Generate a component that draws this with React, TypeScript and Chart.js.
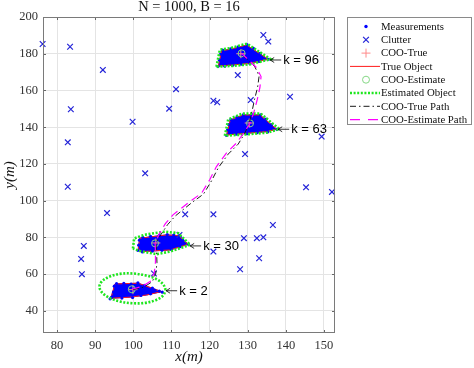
import React, { useEffect, useRef } from 'react';
import { Chart, registerables } from 'chart.js';

Chart.register(...registerables);

type P = [number, number];

const TITLE = 'N = 1000, B = 16';
const X_LABEL = 'x(m)';
const Y_LABEL = 'y(m)';
const X_TICKS = [80, 90, 100, 110, 120, 130, 140, 150];
const Y_TICKS = [40, 60, 80, 100, 120, 140, 160, 180, 200];
const X_LIMITS: P = [76.3, 152.9];
const Y_LIMITS: P = [28, 200];

// Measurements (dense clusters around the object at k = 2, 30, 63, 96)
const measurementsK2: P[] = [
  [94.3, 47.5], [94.8, 50.2], [95.0, 53.5], [95.6, 54.9], [97.5, 55.0], [99.4, 54.6], [101.2, 55.3],
  [103.0, 54.0], [105.0, 52.5], [106.8, 50.8], [107.6, 50.2], [104.5, 49.3], [102.0, 48.4], [99.8, 47.3],
  [97.0, 47.0], [96.0, 49.5], [98.2, 51.0], [100.5, 52.0], [102.6, 51.2], [97.3, 53.0], [93.9, 46.6], [105.6, 51.4],
];
const measurementsK30: P[] = [
  [101.2, 73.0], [101.4, 75.8], [101.6, 78.5], [102.5, 80.0], [104.5, 80.6], [106.8, 81.2], [108.9, 81.6],
  [110.6, 81.3], [112.0, 80.6], [113.0, 78.4], [114.5, 76.2], [112.2, 75.0], [110.0, 73.4], [107.5, 73.0],
  [105.0, 72.6], [102.4, 72.1], [104.0, 76.0], [107.0, 77.5], [110.0, 77.9], [103.5, 78.0],
];
const measurementsK63: P[] = [
  [124.4, 135.6], [124.7, 138.5], [125.0, 141.5], [125.6, 144.2], [127.2, 145.6], [128.9, 146.9], [131.0, 147.0],
  [133.4, 146.8], [134.8, 144.4], [136.3, 141.5], [137.7, 138.8], [135.2, 137.4], [132.5, 137.1], [129.8, 136.5],
  [127.0, 136.2], [128.0, 140.5], [131.0, 142.5], [133.5, 140.2],
];
const measurementsK96: P[] = [
  [122.2, 173.0], [122.6, 176.5], [122.9, 179.8], [123.4, 182.0], [125.5, 182.6], [127.5, 183.8], [129.8, 185.0],
  [131.5, 183.0], [133.3, 180.2], [135.5, 177.0], [133.0, 175.8], [130.6, 174.6], [128.3, 174.3], [126.0, 173.6],
  [124.0, 173.2], [125.5, 178.5], [128.5, 180.0], [131.0, 178.0],
];

const clutter: P[] = [
  [76.2, 185.3], [83.4, 183.8], [83.6, 149.8], [82.8, 131.8], [82.8, 107.6], [87.0, 75.4], [86.3, 68.3],
  [86.5, 60.0], [92.0, 171.2], [111.2, 160.7], [109.4, 150.1], [99.8, 143.0], [121.0, 154.4], [122.0, 153.6],
  [130.8, 154.8], [127.4, 168.4], [135.4, 186.6], [134.1, 190.2], [129.3, 125.4], [141.1, 156.6], [149.4, 134.9],
  [152.1, 104.8], [145.3, 107.3], [103.1, 114.9], [113.6, 92.6], [121.0, 92.6], [93.1, 93.3], [136.6, 86.8],
  [129.0, 79.6], [132.4, 79.6], [134.1, 80.1], [133.0, 68.7], [128.0, 62.7], [121.0, 72.3], [112.1, 81.4],
  [105.4, 60.4],
];

const cooTrue: P[] = [[99.9, 51.6], [105.9, 77.0], [130.4, 142.3], [128.2, 180.0]];
const cooEstimate: P[] = [[99.6, 51.8], [105.7, 76.8], [130.6, 142.1], [128.4, 180.2]];

const trueObjectK2: P[] = [[94.1, 46.9], [95.2, 54.7], [101.3, 55.1], [107.4, 50.5], [103.5, 48.7], [99.1, 47.5], [94.1, 46.9]];
const trueObjectK30: P[] = [[101.3, 74.1], [101.7, 79.6], [108.7, 81.4], [111.8, 81.0], [114.4, 76.3], [109.6, 73.2], [102.2, 72.3], [101.3, 74.1]];
const trueObjectK63: P[] = [[124.5, 135.8], [125.4, 143.9], [128.8, 146.7], [133.2, 146.7], [137.6, 138.9], [135.0, 137.6], [129.7, 136.7], [124.5, 135.8]];
const trueObjectK96: P[] = [[122.3, 173.3], [123.2, 181.7], [125.4, 182.4], [129.7, 184.8], [135.4, 177.0], [130.6, 174.8], [126.2, 173.9], [122.3, 173.3]];

const estObjectK2: P[] = [
  [108.5, 51.4], [107.8, 54.6], [106.0, 57.4], [103.1, 59.4], [99.8, 60.4], [96.5, 60.2], [93.7, 58.6], [91.8, 56.2],
  [91.1, 53.2], [91.8, 50.0], [93.7, 47.2], [96.5, 45.1], [99.8, 44.2], [103.1, 44.4], [106.0, 46.0], [107.8, 48.4], [108.5, 51.4],
];
const estObjectK30: P[] = [[99.9, 74.0], [100.2, 79.5], [103.0, 81.5], [108.3, 83.2], [111.8, 82.3], [114.9, 76.0], [109.6, 72.3], [106.1, 70.9], [101.7, 72.6], [99.9, 74.0]];
const estObjectK63: P[] = [[124.0, 135.4], [124.9, 144.3], [128.6, 147.4], [133.4, 147.4], [138.3, 139.0], [135.2, 137.1], [129.7, 136.1], [124.0, 135.4]];
const estObjectK96: P[] = [[121.8, 172.9], [122.7, 182.2], [125.3, 183.0], [129.8, 185.5], [136.0, 177.0], [130.7, 174.3], [126.2, 173.4], [121.8, 172.9]];

const cooTruePath: P[] = [
  [99.9, 51.6], [102.8, 53.0], [105.0, 56.0], [105.9, 60.6], [106.2, 66.2], [106.1, 71.8], [105.9, 77.0],
  [107.3, 81.8], [109.0, 87.0], [111.0, 91.7], [115.3, 98.9], [118.4, 103.6], [120.5, 110.8], [122.3, 118.0],
  [124.9, 125.4], [127.5, 130.8], [129.2, 136.6], [130.4, 142.3], [131.1, 148.3], [131.8, 155.2], [132.6, 161.8],
  [133.0, 167.9], [131.9, 172.8], [130.0, 176.8], [128.2, 180.0],
];
const cooEstimatePath: P[] = [
  [99.6, 51.8], [102.4, 53.4], [104.6, 56.3], [105.5, 61.0], [105.8, 66.5], [105.8, 72.0], [105.7, 76.8],
  [106.8, 82.0], [108.4, 87.5], [110.4, 92.3], [114.8, 99.5], [117.9, 104.1], [120.0, 111.3], [121.8, 118.6],
  [124.4, 125.9], [127.0, 131.3], [129.0, 137.0], [130.6, 142.1], [131.6, 148.0], [132.5, 155.0], [133.2, 161.5],
  [133.5, 167.6], [132.3, 172.5], [130.2, 176.6], [128.4, 180.2],
];

const K_LABELS = ['k = 2', 'k = 30', 'k = 63', 'k = 96'];
const K_LABEL_TIPS: P[] = [[108.6, 51.0], [114.9, 75.4], [138.0, 138.9], [135.9, 176.6]];

const LEGEND_ORDER = ['Measurements', 'Clutter', 'COO-True', 'True Object', 'COO-Estimate', 'Estimated Object', 'COO-True Path', 'COO-Estimate Path'];

const BLUE = '#0000ff';
const CLUTTER_C = '#2424d8';
const RED = '#ff1a1a';
const GREEN = '#1ee61e';
const SERIF = '"Liberation Serif", "Times New Roman", serif';
const SANS = '"Liberation Sans", Arial, sans-serif';

const xy = (pts: P[]) => pts.map(([x, y]) => ({ x, y }));

function drawMarker(ctx: CanvasRenderingContext2D, kind: string, cx: number, cy: number, ds: any) {
  ctx.save();
  ctx.setLineDash([]);
  if (kind === 'circle' && ds.backgroundColor !== 'transparent') {
    ctx.fillStyle = ds.backgroundColor;
    ctx.beginPath();
    ctx.arc(cx, cy, 1.7, 0, Math.PI * 2);
    ctx.fill();
  } else if (kind === 'circle') {
    ctx.strokeStyle = ds.borderColor;
    ctx.lineWidth = ds.borderWidth;
    ctx.beginPath();
    ctx.arc(cx, cy, ds.pointRadius, 0, Math.PI * 2);
    ctx.stroke();
  } else if (kind === 'crossRot') {
    const r = ds.pointRadius * 0.72;
    ctx.strokeStyle = ds.borderColor;
    ctx.lineWidth = ds.borderWidth;
    ctx.beginPath();
    ctx.moveTo(cx - r, cy - r); ctx.lineTo(cx + r, cy + r);
    ctx.moveTo(cx - r, cy + r); ctx.lineTo(cx + r, cy - r);
    ctx.stroke();
  } else if (kind === 'cross') {
    const r = ds.pointRadius;
    ctx.strokeStyle = ds.borderColor;
    ctx.lineWidth = ds.borderWidth;
    ctx.beginPath();
    ctx.moveTo(cx - r, cy); ctx.lineTo(cx + r, cy);
    ctx.moveTo(cx, cy - r); ctx.lineTo(cx, cy + r);
    ctx.stroke();
  }
  ctx.restore();
}

const decorPlugin = {
  id: 'decor',
  afterDatasetsDraw(chart: any) {
    const { ctx, chartArea: a, scales } = chart;
    const xs = scales.x;
    const ys = scales.y;
    ctx.save();

    // inward tick marks on all four sides
    ctx.strokeStyle = '#666';
    ctx.lineWidth = 1;
    ctx.setLineDash([]);
    ctx.beginPath();
    X_TICKS.forEach((v) => {
      const px = Math.round(xs.getPixelForValue(v)) + 0.5;
      ctx.moveTo(px, a.bottom); ctx.lineTo(px, a.bottom - 3);
      ctx.moveTo(px, a.top); ctx.lineTo(px, a.top + 3);
    });
    Y_TICKS.forEach((v) => {
      const py = Math.round(ys.getPixelForValue(v)) + 0.5;
      ctx.moveTo(a.left, py); ctx.lineTo(a.left + 3, py);
      ctx.moveTo(a.right, py); ctx.lineTo(a.right - 3, py);
    });
    ctx.stroke();

    // frame
    ctx.strokeStyle = '#7a7a7a';
    ctx.strokeRect(Math.round(a.left) + 0.5, Math.round(a.top) + 0.5, Math.round(a.width) - 1, Math.round(a.height) - 1);

    // k annotations (text arrows)
    ctx.strokeStyle = '#000';
    ctx.fillStyle = '#000';
    ctx.lineWidth = 0.8;
    ctx.font = `13px ${SANS}`;
    ctx.textBaseline = 'middle';
    ctx.textAlign = 'left';
    K_LABELS.forEach((label, i) => {
      const px = xs.getPixelForValue(K_LABEL_TIPS[i][0]);
      const py = ys.getPixelForValue(K_LABEL_TIPS[i][1]);
      ctx.beginPath();
      ctx.moveTo(px, py); ctx.lineTo(px + 11, py);
      ctx.moveTo(px + 4, py - 2.5); ctx.lineTo(px, py); ctx.lineTo(px + 4, py + 2.5);
      ctx.stroke();
      ctx.fillText(label, px + 13, py + 0.5);
    });

    // title
    ctx.fillStyle = '#111';
    ctx.textAlign = 'center';
    ctx.textBaseline = 'alphabetic';
    ctx.font = `14.5px ${SERIF}`;
    ctx.fillText(TITLE, (a.left + a.right) / 2, 11);

    // axis titles
    ctx.font = `italic 15px ${SERIF}`;
    ctx.textBaseline = 'middle';
    ctx.fillText(X_LABEL, (a.left + a.right) / 2, 357);
    ctx.save();
    ctx.translate(10, (a.top + a.bottom) / 2);
    ctx.rotate(-Math.PI / 2);
    ctx.fillText(Y_LABEL, 0, 0);
    ctx.restore();

    // legend
    const lx = 347, ly = 17, lw = 125, lh = 108;
    ctx.fillStyle = '#fff';
    ctx.fillRect(lx, ly, lw, lh);
    ctx.strokeStyle = '#8a8a8a';
    ctx.lineWidth = 1;
    ctx.strokeRect(lx + 0.5, ly + 0.5, lw - 1, lh - 1);
    ctx.font = `10.8px ${SERIF}`;
    ctx.textAlign = 'left';
    ctx.textBaseline = 'middle';
    LEGEND_ORDER.forEach((label, i) => {
      const ds: any = chart.data.datasets.find((d: any) => d.label === label);
      const cy = ly + 9.5 + i * 13.3;
      if (ds.showLine) {
        ctx.save();
        ctx.strokeStyle = ds.borderColor;
        ctx.lineWidth = ds.borderWidth;
        ctx.setLineDash(ds.legendDash || ds.borderDash || []);
        ctx.beginPath();
        ctx.moveTo(350, cy); ctx.lineTo(380, cy);
        ctx.stroke();
        ctx.restore();
      } else {
        drawMarker(ctx, ds.pointStyle, 366, cy, ds);
      }
      ctx.fillStyle = '#111';
      ctx.fillText(label, 381, cy + 0.5);
    });

    ctx.restore();
  },
};

export default function App() {
  const canvasRef = useRef<HTMLCanvasElement | null>(null);

  useEffect(() => {
    document.body.style.margin = '0';
    const canvas = canvasRef.current;
    if (!canvas) return;

    const trueObjects = [trueObjectK2, trueObjectK30, trueObjectK63, trueObjectK96];
    const estObjects = [estObjectK2, estObjectK30, estObjectK63, estObjectK96];
    const measurements = [...measurementsK2, ...measurementsK30, ...measurementsK63, ...measurementsK96];

    const datasets: any[] = [
      ...trueObjects.map((poly, i) => ({
        label: `_measurementArea${i}`,
        data: xy(poly),
        showLine: true,
        fill: 'shape',
        backgroundColor: BLUE,
        borderColor: BLUE,
        borderWidth: 1,
        pointRadius: 0,
        order: 20,
      })),
      {
        label: 'Measurements',
        data: xy(measurements),
        showLine: false,
        pointStyle: 'circle',
        pointRadius: 1.6,
        backgroundColor: BLUE,
        borderColor: BLUE,
        borderWidth: 0,
        order: 18,
      },
      {
        label: 'Clutter',
        data: xy(clutter),
        showLine: false,
        pointStyle: 'crossRot',
        pointRadius: 4,
        borderColor: CLUTTER_C,
        backgroundColor: CLUTTER_C,
        borderWidth: 1.2,
        clip: 6,
        order: 17,
      },
      {
        label: 'COO-True',
        data: xy(cooTrue),
        showLine: false,
        pointStyle: 'cross',
        pointRadius: 4.5,
        borderColor: '#ff8a8a',
        backgroundColor: '#ff8a8a',
        borderWidth: 1,
        order: 14,
      },
      ...trueObjects.map((poly, i) => ({
        label: i === 0 ? 'True Object' : `_trueObject${i}`,
        data: xy(poly),
        showLine: true,
        fill: false,
        borderColor: RED,
        borderWidth: 1,
        pointRadius: 0,
        order: 19,
      })),
      {
        label: 'COO-Estimate',
        data: xy(cooEstimate),
        showLine: false,
        pointStyle: 'circle',
        pointRadius: 3.5,
        borderColor: '#86d886',
        backgroundColor: 'transparent',
        borderWidth: 1,
        order: 13,
      },
      ...estObjects.map((poly, i) => ({
        label: i === 0 ? 'Estimated Object' : `_estObject${i}`,
        data: xy(poly),
        showLine: true,
        fill: false,
        borderColor: GREEN,
        borderWidth: 2.6,
        borderDash: [2, 1.6],
        tension: i === 0 ? 0.35 : 0,
        pointRadius: 0,
        order: 16,
      })),
      {
        label: 'COO-True Path',
        data: xy(cooTruePath),
        showLine: true,
        fill: false,
        borderColor: '#1a1a1a',
        borderWidth: 1,
        borderDash: [6, 3, 1.5, 3],
        pointRadius: 0,
        order: 12,
      },
      {
        label: 'COO-Estimate Path',
        data: xy(cooEstimatePath),
        showLine: true,
        fill: false,
        borderColor: '#ff00ff',
        borderWidth: 1.2,
        borderDash: [8, 5],
        legendDash: [10, 8],
        pointRadius: 0,
        order: 11,
      },
    ];

    const chart = new Chart(canvas, {
      type: 'line',
      data: { datasets },
      options: {
        animation: false,
        responsive: false,
        events: [],
        layout: { padding: { left: 0, right: 139, top: 17, bottom: 0 } },
        plugins: {
          legend: { display: false },
          tooltip: { enabled: false },
          title: { display: false },
        },
        scales: {
          x: {
            type: 'linear',
            min: X_LIMITS[0],
            max: X_LIMITS[1],
            afterBuildTicks: (s: any) => { s.ticks = X_TICKS.map((v) => ({ value: v })); },
            afterFit: (s: any) => { s.height = 35; },
            grid: { color: '#e4e4e4', lineWidth: 1, drawTicks: false },
            border: { display: false },
            ticks: { font: { family: SERIF, size: 12.5 }, color: '#333', padding: 5, maxRotation: 0, autoSkip: false },
          },
          y: {
            type: 'linear',
            min: Y_LIMITS[0],
            max: Y_LIMITS[1],
            afterBuildTicks: (s: any) => { s.ticks = Y_TICKS.map((v) => ({ value: v })); },
            afterFit: (s: any) => { s.width = 43; },
            grid: { color: '#e4e4e4', lineWidth: 1, drawTicks: false },
            border: { display: false },
            ticks: { font: { family: SERIF, size: 12.5 }, color: '#333', padding: 5, autoSkip: false },
          },
        },
      },
      plugins: [decorPlugin],
    });

    return () => chart.destroy();
  }, []);

  return (
    <div style={{ width: 474, height: 368 }}>
      <canvas ref={canvasRef} width={474} height={368} style={{ display: 'block' }} />
    </div>
  );
}
